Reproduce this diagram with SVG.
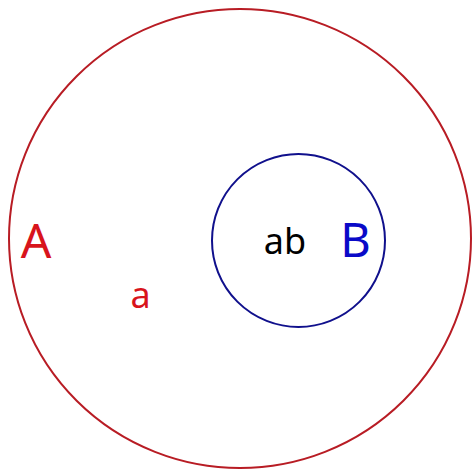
<svg xmlns="http://www.w3.org/2000/svg" width="474" height="474" viewBox="0 0 474 474">
<style>
.t{font-family:"Noto Sans","Open Sans","Liberation Sans",sans-serif;text-anchor:middle}
.red{fill:#d8141c}
</style>
<rect width="474" height="474" fill="#fff"/>
<g id="setA">
<ellipse cx="240" cy="238.5" rx="231" ry="229.5" fill="none" stroke="#b81c24" stroke-width="2"/>
<text class="t red" x="36" y="258" font-size="48">A</text>
<text class="t red" x="140.5" y="308" font-size="36">a</text>
</g>
<g id="setB">
<circle cx="298.5" cy="240.5" r="86.5" fill="none" stroke="#10108c" stroke-width="2"/>
<text class="t" x="285" y="254" font-size="36" fill="#000">ab</text>
<text class="t" x="355.5" y="257" font-size="47" fill="#0a0ac8">B</text>
</g>
<g id="connectors"/>
</svg>
